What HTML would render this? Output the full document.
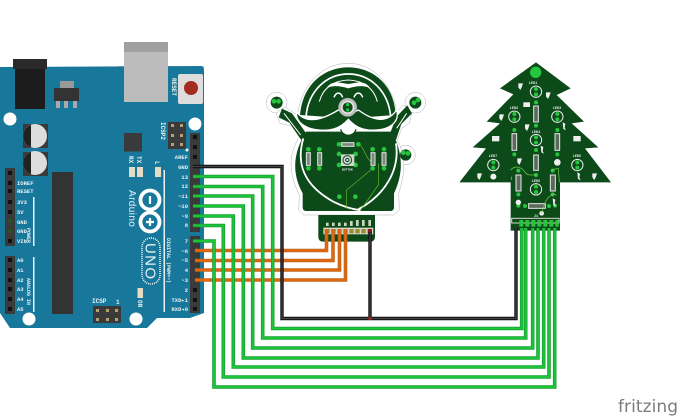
<!DOCTYPE html>
<html><head><meta charset="utf-8"><style>html,body{margin:0;padding:0;background:#fff}svg{display:block}text{font-family:"Liberation Mono",monospace;font-weight:bold;fill:#e8f0f2}</style></head><body>
<svg width="680" height="416" viewBox="0 0 680 416" xmlns="http://www.w3.org/2000/svg">
<rect width="680" height="416" fill="#fff"/>

<!-- USB behind board -->
<rect x="118" y="66" width="56" height="7" fill="#c8c8c8"/>
<!-- Arduino board -->
<path d="M0 67 L201 66 Q204 66 204 69 L204 313 L190 318 L157 318 L147 328 L10 328 L0 313 Z" fill="#17789b"/>
<rect x="124" y="42" width="44" height="60" fill="#bcbcbc"/>
<rect x="124" y="42" width="44" height="10" fill="#a0a0a0"/>
<rect x="13" y="59" width="34" height="10" fill="#2a2a2a"/>
<rect x="15" y="69" width="30" height="40" fill="#1c1c1c"/>
<rect x="60" y="81" width="14" height="8" fill="#999"/>
<rect x="54" y="88" width="25" height="13" fill="#333"/>
<rect x="56" y="101" width="4" height="7" fill="#aaa"/><rect x="64" y="101" width="4" height="7" fill="#aaa"/><rect x="73" y="101" width="4" height="7" fill="#aaa"/>
<rect x="178" y="74" width="25" height="30" rx="2" fill="#ddd"/>
<circle cx="191" cy="88" r="7" fill="#a32c20"/>
<text transform="translate(172,78) rotate(90)" font-size="6">RESET</text>
<circle cx="10" cy="119" r="6.500" fill="#fff"/><circle cx="195" cy="124" r="6.500" fill="#fff"/>
<circle cx="29" cy="319" r="6.500" fill="#fff"/><circle cx="136" cy="319" r="6.500" fill="#fff"/>
<!-- caps -->
<rect x="23" y="124" width="25" height="24" fill="#3a3a3a"/><rect x="23" y="152" width="25" height="24" fill="#3a3a3a"/>
<circle cx="35" cy="136" r="12" fill="#ddd"/><path d="M31 124.700 A12 12 0 0 0 31 147.300 Z" fill="#222"/>
<circle cx="35" cy="163" r="12" fill="#ddd"/><path d="M31 151.700 A12 12 0 0 0 31 174.300 Z" fill="#222"/>
<rect x="124" y="133" width="18" height="18.500" fill="#3a3a3a"/>
<rect x="168" y="122" width="18" height="27" fill="#3a3a3a"/>
<g fill="#b8a070"><rect x="171" y="124" width="3" height="3"/><rect x="180" y="124" width="3" height="3"/><rect x="171" y="134" width="3" height="3"/><rect x="180" y="134" width="3" height="3"/><rect x="171" y="143" width="3" height="3"/><rect x="180" y="143" width="3" height="3"/></g>
<text transform="translate(161,122) rotate(90)" font-size="6">ICSP2</text>
<circle cx="187" cy="150" r="1.500" fill="#fff"/>
<!-- main IC -->
<rect x="52" y="172" width="21" height="142" fill="#333"/>
<!-- LEDs -->
<rect x="129" y="167" width="6" height="10" fill="#e4dcc4"/><rect x="137" y="167" width="6" height="10" fill="#e4dcc4"/><rect x="155" y="167" width="6" height="10" fill="#e4dcc4"/>
<rect x="137.500" y="288" width="5.500" height="10" fill="#e4dcc4"/>
<text transform="translate(129,156) rotate(90)" font-size="6">RX</text>
<text transform="translate(137,156) rotate(90)" font-size="6">TX</text>
<text transform="translate(155,161) rotate(90)" font-size="6">L</text>
<text transform="translate(138,300) rotate(90)" font-size="6">ON</text>
<rect x="163.500" y="170" width="1.500" height="142" fill="#e8f0f2"/>
<rect x="33" y="197" width="1.500" height="49" fill="#e8f0f2"/>
<rect x="33" y="257" width="1.500" height="55" fill="#e8f0f2"/>
<!-- logo -->
<g fill="none" stroke="#fff" stroke-width="3.800"><circle cx="150" cy="200" r="9.500"/><circle cx="150" cy="222" r="9.500"/></g>
<path d="M150 196 v8" stroke="#fff" stroke-width="2.200"/>
<path d="M146 222 h8 M150 218 v8" stroke="#fff" stroke-width="2.200"/>
<text transform="translate(129,190) rotate(90)" font-size="10" style="font-family:'Liberation Sans',sans-serif;font-weight:normal;letter-spacing:.4px">Arduino</text>
<rect x="142" y="238" width="18" height="46" rx="9" fill="none" stroke="#fff" stroke-width="1.500" stroke-dasharray="1 1"/>
<text transform="translate(145.500,243) rotate(90)" font-size="15" textLength="36" style="font-family:'Liberation Sans',sans-serif;font-weight:normal">UNO</text>
<!-- bottom ICSP -->
<rect x="93" y="306" width="28" height="17" fill="#3a3a3a"/>
<g fill="#b8a070"><rect x="96" y="309" width="3" height="3"/><rect x="106" y="309" width="3" height="3"/><rect x="115" y="309" width="3" height="3"/><rect x="96" y="318" width="3" height="3"/><rect x="106" y="318" width="3" height="3"/><rect x="115" y="318" width="3" height="3"/></g>
<text x="92" y="303" font-size="6">ICSP</text><text x="116" y="304" font-size="6">1</text>
<!-- headers -->
<rect x="190" y="133" width="10" height="99" fill="#3a3a3a"/><rect x="190" y="236" width="10" height="77" fill="#3a3a3a"/>
<rect x="5" y="168" width="10" height="78" fill="#3a3a3a"/><rect x="5" y="256" width="10" height="58" fill="#3a3a3a"/>
<g fill="#111"><rect x="193" y="135" width="4" height="4"/><rect x="193" y="145" width="4" height="4"/><rect x="193" y="155" width="4" height="4"/><rect x="193" y="288" width="4" height="4"/><rect x="193" y="298" width="4" height="4"/><rect x="193" y="307" width="4" height="4"/>
<rect x="8" y="171" width="4" height="4"/><rect x="8" y="181" width="4" height="4"/><rect x="8" y="189" width="4" height="4"/><rect x="8" y="200" width="4" height="4"/><rect x="8" y="210" width="4" height="4"/><rect x="8" y="239" width="4" height="4"/>
<rect x="8" y="258" width="4" height="4"/><rect x="8" y="268" width="4" height="4"/><rect x="8" y="278" width="4" height="4"/><rect x="8" y="287" width="4" height="4"/><rect x="8" y="297" width="4" height="4"/><rect x="8" y="307" width="4" height="4"/></g>
<circle cx="10" cy="221" r="2" fill="#1e5c1e"/><circle cx="10" cy="231" r="2" fill="#1e5c1e"/>
<!-- labels -->
<g font-size="5.500" text-anchor="end">
<text x="188" y="159">AREF</text><text x="188" y="169">GND</text><text x="188" y="179">13</text><text x="188" y="188">12</text><text x="188" y="198">~11</text><text x="188" y="208">~10</text><text x="188" y="218">~9</text><text x="188" y="227">8</text><text x="188" y="243">7</text><text x="188" y="253">~6</text><text x="188" y="262">~5</text><text x="188" y="272">4</text><text x="188" y="282">~3</text><text x="188" y="292">2</text><text x="188" y="302">TXD▸1</text><text x="188" y="311">RXD◂0</text>
</g>
<g font-size="5.500">
<text x="17" y="185">IOREF</text><text x="17" y="193">RESET</text><text x="17" y="204">3V3</text><text x="17" y="214">5V</text><text x="17" y="224">GND</text><text x="17" y="233">GND</text><text x="17" y="243">VIN</text>
<text x="17" y="262">A0</text><text x="17" y="272">A1</text><text x="17" y="282">A2</text><text x="17" y="291">A3</text><text x="17" y="301">A4</text><text x="17" y="311">A5</text>
</g>
<text transform="translate(27,228) rotate(90)" font-size="5">POWER</text>
<text transform="translate(27,278) rotate(90)" font-size="5">ANALOG IN</text>
<text transform="translate(167,238) rotate(90)" font-size="5">DIGITAL (PWM=~)</text>

<!-- Santa -->
<g transform="translate(260,60) scale(.33333)">
<!-- silhouette -->
<g fill="#fff" stroke="#b0b0b0" stroke-width="1.500">
<circle cx="50" cy="128" r="31"/><circle cx="466" cy="128" r="31"/><circle cx="437" cy="285" r="29"/>
<path d="M112 165 C125 70 190 10 265 10 C340 10 398 75 410 155 L430 135 L455 160 L448 190 L425 205 L412 240 C445 300 430 355 416 400 L418 450 L402 465 L130 465 L116 450 L118 405 C85 340 85 280 118 232 L95 198 L60 190 L48 160 L75 140 Z"/>
</g>
<!-- arms -->
<path d="M66 146 L96 160 L142 225 L124 240 L88 188 L56 172 Z" fill="#0c4a1a"/>
<path d="M72 160 L122 225" fill="none" stroke="#fff" stroke-width="3"/>
<path d="M442 136 L456 160 L424 192 L408 240 L388 225 L410 170 Z" fill="#0c4a1a"/>
<path d="M440 160 L410 205" fill="none" stroke="#fff" stroke-width="3"/>
<!-- body (zoom coords offset) -->
<g transform="translate(90,210)">
<path d="M48 5 C15 60 0 120 38 190 L38 232 Q38 243 50 243 L300 243 Q312 243 312 232 L312 190 C345 120 335 60 305 5 Z" fill="#0c4a1a"/>
<path d="M40 25 C18 100 40 165 130 215 C160 230 190 238 212 241 M318 40 C330 120 285 195 205 238" fill="none" stroke="#fff" stroke-width="5.500"/>
<path d="M205 43 C225 50 228 95 248 95 M248 115 L170 180 L170 236 M265 100 L265 165 L212 240" fill="none" stroke="#67b52c" stroke-width="2"/>
<g fill="#27c53e"><circle cx="55" cy="58" r="7"/><circle cx="88" cy="58" r="7"/><circle cx="55" cy="115" r="7"/><circle cx="88" cy="115" r="7"/><circle cx="248" cy="58" r="7"/><circle cx="282" cy="58" r="7"/><circle cx="248" cy="115" r="7"/><circle cx="282" cy="115" r="7"/><circle cx="147" cy="43" r="7"/><circle cx="205" cy="43" r="7"/><circle cx="147" cy="72" r="7"/><circle cx="197" cy="72" r="7"/><circle cx="147" cy="105" r="7"/><circle cx="197" cy="105" r="7"/><circle cx="148" cy="200" r="7"/><circle cx="196" cy="200" r="7"/></g>
<g fill="#7a8a7a" stroke="#e4e4e4" stroke-width="3"><rect x="49" y="68" width="12" height="38"/><rect x="83" y="68" width="12" height="38"/><rect x="243" y="68" width="12" height="38"/><rect x="276" y="68" width="12" height="38"/><rect x="155" y="38" width="37" height="11"/></g>
<rect x="153" y="73" width="40" height="35" fill="#cfd8cf"/>
<circle cx="172" cy="90" r="13" fill="none" stroke="#0c4a1a" stroke-width="3"/><circle cx="172" cy="90" r="5" fill="none" stroke="#0c4a1a" stroke-width="3"/>
<text x="172" y="121" font-size="9" text-anchor="middle">BUTTON</text>
</g>
<!-- head (zoom coords offset) -->
<g transform="translate(60,0)">
<path d="M60 165 C68 70 135 22 205 22 C275 22 342 70 347 165 L205 175 Z" fill="#0c4a1a"/>
<path d="M78 170 C85 92 140 42 205 42 C270 42 325 92 332 170" fill="none" stroke="#fff" stroke-width="5"/>
<path d="M118 125 C128 85 160 62 205 60 C250 62 282 85 292 125" fill="none" stroke="#fff" stroke-width="3"/>
<path d="M140 84 C155 60 178 68 205 72 C232 68 255 60 270 84 C250 75 230 78 205 85 C180 78 160 75 140 84 Z" fill="#fff"/>
<path d="M162 112 C168 95 182 95 188 112 M222 112 C228 95 242 95 248 112" fill="none" stroke="#fff" stroke-width="4.500"/>
<path d="M178 160 H232 L238 205 Q205 245 172 205 Z" fill="#fff"/>
<path d="M182 208 C188 232 222 232 228 208" fill="none" stroke="#0c4a1a" stroke-width="4"/>
<path d="M50 155 C70 185 110 190 175 150 L205 165 L235 150 C290 190 325 185 350 150 C360 185 330 215 265 210 C240 208 220 195 205 178 C190 195 170 208 145 210 C85 215 45 190 50 155 Z" fill="#0c4a1a" stroke="#fff" stroke-width="4"/>
<circle cx="203" cy="142" r="28" fill="#bdbdbd"/><circle cx="203" cy="142" r="20" fill="#e4e4e4"/><circle cx="203" cy="142" r="15" fill="#0c4a1a"/><circle cx="203" cy="134" r="5" fill="#27c53e"/><circle cx="203" cy="150" r="5" fill="#27c53e"/>
</g>
<g fill="#0c4a1a"><circle cx="50" cy="128" r="18"/><circle cx="466" cy="128" r="18"/><circle cx="437" cy="285" r="17"/></g>
<g fill="#27c53e"><circle cx="42" cy="124" r="7"/><circle cx="56" cy="124" r="7"/><circle cx="474" cy="120" r="7"/><circle cx="462" cy="128" r="7"/><circle cx="430" cy="278" r="7"/><circle cx="444" cy="280" r="7"/></g>
<!-- tab -->
<path d="M175 465 H345 V530 Q345 545 330 545 H190 Q175 545 175 530 Z" fill="#0c4a1a"/>
<rect x="190" y="503" width="150" height="20" fill="#d8d8c8"/>
<g fill="#9a8a30"><rect x="196" y="507" width="13" height="13"/><rect x="214" y="507" width="13" height="13"/><rect x="232" y="507" width="13" height="13"/><rect x="250" y="507" width="13" height="13"/><rect x="268" y="507" width="13" height="13"/><rect x="286" y="507" width="13" height="13"/><rect x="304" y="507" width="13" height="13"/></g>
<rect x="323" y="507" width="13" height="13" fill="#8c1c1c"/>
<g fill="#c8d8c0"><rect x="198" y="488" width="8" height="10"/><rect x="216" y="488" width="8" height="10"/><rect x="234" y="488" width="8" height="10"/><rect x="252" y="488" width="8" height="10"/><rect x="270" y="483" width="8" height="15"/><rect x="288" y="480" width="8" height="18"/><rect x="306" y="480" width="8" height="18"/><rect x="325" y="480" width="8" height="18"/></g>
</g>

<!-- Tree -->
<g transform="translate(450,55) scale(.33333)">
<path d="M258 22 L362 100 L320 120 L402 200 L365 205 L445 277 L405 280 L483 382 L330 382 L330 527 L182 527 L182 382 L28 382 L108 280 L68 277 L150 205 L110 200 L190 118 L150 100 Z" fill="#0c4a1a"/>
<circle cx="257" cy="52" r="17" fill="#27c53e"/>
<g fill="none" stroke="#e8e8e8" stroke-width="3"><circle cx="258" cy="110" r="17"/><circle cx="193" cy="185" r="17"/><circle cx="322" cy="185" r="17"/><circle cx="258" cy="255" r="17"/><circle cx="130" cy="330" r="17"/><circle cx="382" cy="330" r="17"/><circle cx="258" cy="403" r="17"/></g>
<g fill="#27c53e"><circle cx="258" cy="102" r="6"/><circle cx="258" cy="118" r="6"/><circle cx="258" cy="142" r="6"/><circle cx="258" cy="212" r="6"/><circle cx="258" cy="247" r="6"/><circle cx="258" cy="263" r="6"/><circle cx="258" cy="285" r="6"/><circle cx="258" cy="360" r="6"/><circle cx="258" cy="395" r="6"/><circle cx="258" cy="411" r="6"/><circle cx="193" cy="177" r="6"/><circle cx="193" cy="193" r="6"/><circle cx="193" cy="225" r="6"/><circle cx="193" cy="298" r="6"/><circle cx="322" cy="177" r="6"/><circle cx="322" cy="193" r="6"/><circle cx="322" cy="225" r="6"/><circle cx="322" cy="298" r="6"/><circle cx="130" cy="322" r="6"/><circle cx="130" cy="338" r="6"/><circle cx="382" cy="322" r="6"/><circle cx="382" cy="338" r="6"/><circle cx="205" cy="347" r="6"/><circle cx="205" cy="418" r="6"/><circle cx="308" cy="347" r="6"/><circle cx="308" cy="418" r="6"/><circle cx="225" cy="453" r="6"/><circle cx="297" cy="453" r="6"/><circle cx="205" cy="452" r="6"/><circle cx="315" cy="452" r="6"/></g>
<g fill="#5a6a5a" stroke="#e8e8e8" stroke-width="3"><rect x="251" y="153" width="14" height="48"/><rect x="186" y="236" width="14" height="50"/><rect x="315" y="236" width="14" height="50"/><rect x="251" y="300" width="14" height="46"/><rect x="198" y="360" width="15" height="48"/><rect x="301" y="360" width="15" height="48"/><rect x="236" y="446" width="50" height="14"/></g>
<g fill="#eee"><circle cx="130" cy="365" r="9"/><circle cx="322" cy="322" r="10"/><circle cx="205" cy="442" r="8"/><circle cx="275" cy="475" r="7"/>
<path d="M205 85 h14 l-4 12 l-4 8 l-6 -8 z M288 112 h14 l-4 12 l-4 8 l-6 -8 z M148 178 h14 l-4 12 l-4 8 l-6 -8 z M225 208 h14 l-4 12 l-4 8 l-6 -8 z M202 310 h14 l-4 12 l-4 8 l-6 -8 z M82 355 h14 l-4 12 l-4 8 l-6 -8 z M427 355 h14 l-4 12 l-4 8 l-6 -8 z M272 272 l8 4 l-2 12 l4 8 l-8 -4 z M338 202 l8 4 l-2 12 l4 8 l-8 -4 z M382 352 l8 4 l-2 12 l4 8 l-8 -4 z M308 430 l8 4 l-2 12 l4 8 l-8 -4 z"/>
<rect x="220" y="142" width="20" height="14"/><rect x="126" y="243" width="22" height="16"/><rect x="370" y="243" width="22" height="16"/></g>
<path d="M182 345 C195 330 215 335 225 352 C235 365 250 358 258 360 M185 365 L185 375 M303 345 L325 340 L328 382 M275 475 C285 430 300 415 320 420" fill="none" stroke="#7fd04a" stroke-width="2"/>
<rect x="185" y="490" width="142" height="14" fill="none" stroke="#d8d8c8" stroke-width="3"/>
<g fill="#27c53e"><rect x="208" y="495" width="12" height="20"/><rect x="226" y="495" width="12" height="20"/><rect x="244" y="495" width="12" height="20"/><rect x="262" y="495" width="12" height="20"/><rect x="280" y="495" width="12" height="20"/><rect x="298" y="495" width="12" height="20"/><rect x="316" y="495" width="10" height="20"/></g>
</g>
<g font-size="3.500"><text x="533" y="84" text-anchor="middle">LED1</text><text x="514" y="109" text-anchor="middle">LED2</text><text x="557" y="109" text-anchor="middle">LED3</text><text x="536" y="133" text-anchor="middle">LED4</text><text x="493" y="157" text-anchor="middle">LED7</text><text x="577" y="157" text-anchor="middle">LED5</text><text x="536" y="182" text-anchor="middle">LED6</text><text x="536" y="217" text-anchor="middle">J1</text></g>

<!-- wires: orange -->
<g fill="none" stroke-linejoin="miter">
<g stroke="#b9681f" stroke-width="3.600"><path d="M195 250.500H326.500V229"/><path d="M195 260.500H333V229"/><path d="M195 270H339.500V229"/><path d="M195 280H345.500V229"/></g>
<g stroke="#e0660f" stroke-width="2.200"><path d="M195 250.500H326.500V229"/><path d="M195 260.500H333V229"/><path d="M195 270H339.500V229"/><path d="M195 280H345.500V229"/></g>
<!-- green -->
<g stroke="#16a034" stroke-width="3.600">
<path d="M193 176.500H272.700V328.500H521.700V228"/><path d="M193 186.500H262.700V338H525.700V228"/><path d="M193 196H252.700V348H532.700V228"/><path d="M193 206H243.300V358H538V228"/><path d="M193 216H233.300V367H543.700V228"/><path d="M193 225.500H223.300V377H549V228"/><path d="M193 241H214V387H554.700V228"/>
</g>
<g stroke="#1cc438" stroke-width="2">
<path d="M193 176.500H272.700V328.500H521.700V228"/><path d="M193 186.500H262.700V338H525.700V228"/><path d="M193 196H252.700V348H532.700V228"/><path d="M193 206H243.300V358H538V228"/><path d="M193 216H233.300V367H543.700V228"/><path d="M193 225.500H223.300V377H549V228"/><path d="M193 241H214V387H554.700V228"/>
</g>
<!-- black -->
<g stroke="#111" stroke-width="3.400"><path d="M193 166.500H282V318.500H516V228"/><path d="M370 232V318.500"/></g>
<g stroke="#444" stroke-width="1.200"><path d="M193 166.500H282V318.500H516V228"/><path d="M370 232V318.500"/></g>
</g>
<rect x="368.500" y="317" width="3" height="3" fill="#a02020"/>

<text x="618" y="412" font-size="17" textLength="60" style="font-family:'DejaVu Sans',sans-serif;font-weight:normal;fill:#7c7c7c">fritzing</text>
</svg>
</body></html>
